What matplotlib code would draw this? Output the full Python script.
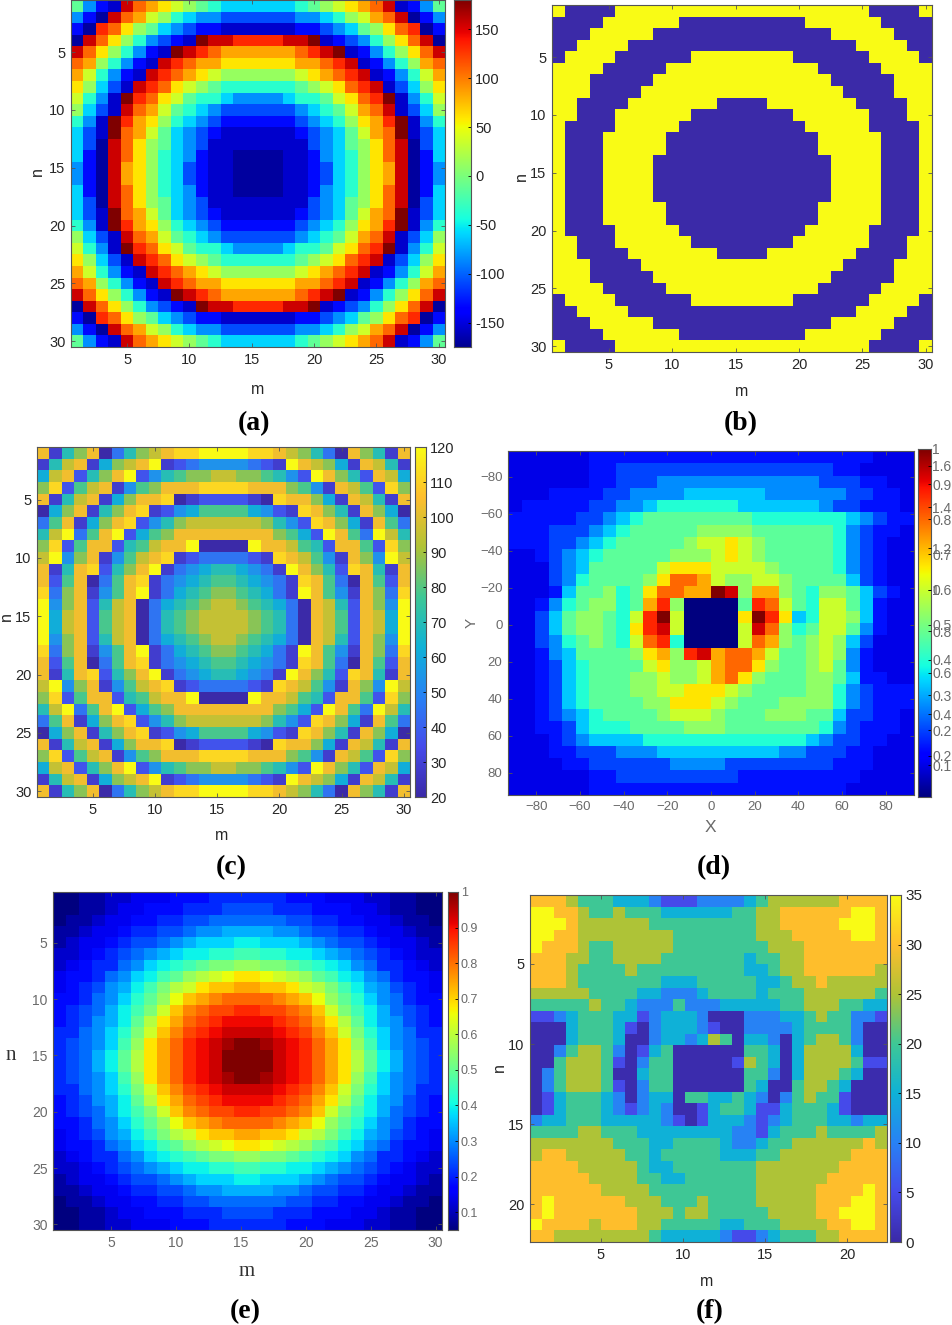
import numpy as np
import matplotlib
matplotlib.use("Agg")
import matplotlib.pyplot as plt
from matplotlib.colors import LinearSegmentedColormap

W, H = 952, 1325

# Cell readings, one string per row; each character is a colour step
A_ROWS = """
7421ecba9876555 5556789abce1247
420ecb986544333 333445689bce024
20dca8754322111 1112234578acd02
0eca86432 1feedd ddeef123468ace0
eca86421fedcbbb bbbcdef12468ace
cb86421edcbbaaa aaabbcde12468bc
b96421edcba9888 8889abcde12469b
a8531edca987666 666789acde1358a
9641fdca9766544 4456679acdf1469
8531ecb97654333 33345679bce1358
641fdba86543222 22234568abdf146
531fcb975432111 111234579bcf135
530eca875431111 111134578ace035
520eca865421100 001124568ace025
420eba865321100 001123568abe024
420eba865321100 001123568abe024
520eca865421100 001124568ace025
530eca875431111 111134578ace035
531fcb975432111 111234579bcf135
641fdba86543222 22234568abdf146
8531ecb97654333 33345679bce1358
9641fdca9766544 4456679acdf1469
a8531edca987666 666789acde1358a
b96421edcba9888 8889abcde12469b
cb86421edcbbaaa aaabbcde12468bc
eca86421fedcbbb bbbcdef12468ace
0eca86432 1feedd ddeef123468ace0
20dca8754322111 1112234578acd02
420ecb986544333 333445689bce024
7421ecba9876555 5556789abce1247
"""
B_ROWS = """
100001111111111111111111100001
000011111100000000001111110000
000111110000000000000011111000
001111000000000000000000111100
011110000001111111100000011110
111100000111111111111000001111
111000001111111111111100000111
111000011111111111111110000111
110000111111100001111111000011
110001111110000000011111100011
100001111100000000001111100001
100011111000000000000111110001
100011111000000000000111110001
100011110000000000000011110001
100011110000000000000011110001
100011110000000000000011110001
100011110000000000000011110001
100011111000000000000111110001
100011111000000000000111110001
100001111100000000001111100001
110001111110000000011111100011
110000111111100001111111000011
111000011111111111111110000111
111000001111111111111100000111
111100000111111111111000001111
011110000001111111100000011110
001111000000000000000000111100
000111110000000000000011111000
000011111100000000001111110000
100001111111111111111111100001
"""
C_ROWS = """
a168a03689abbcc ccbba98630a861a
169a1589ac12344 44321ca9851a961
59a268ac2467889 9887642ca862a95
8b279a1478aaabb bbaaa8741a972b8
a169a158aab0122 2210baa851a961a
058a168ab124577 775421ba861a850
37a158ab2468999 9998642ba851a73
69c37ac2578aaaa aaaa8752ca73c96
8b27aa2679aac00 00caa9762aa72b8
9c48a1479ab1233 3321ba9741a84c9
a16ab268ac13456 65431ca862ba61a
a27a037ab134567 765431ba730a72a
b38a147ac135678 876531ca741a83b
c48a269a0356789 9876530a962a84c
c59a279a0367899 9987630a972a95c
c59a279a0367899 9987630a972a95c
c48a269a0356789 9876530a962a84c
b38a147ac135678 876531ca741a83b
a27a037ab134567 765431ba730a72a
a16ab268ac13456 65431ca862ba61a
9c48a1479ab1233 3321ba9741a84c9
8b27aa2679aac00 00caa9762aa72b8
69c37ac2578aaaa aaaa8752ca73c96
37a158ab2468999 9998642ba851a73
058a168ab124577 775421ba861a850
a169a158aab0122 2210baa851a961a
8b279a1478aaabb bbaaa8741a972b8
59a268ac2467889 9887642ca862a95
169a1589ac12344 44321ca9851a961
a168a03689abbcc ccbba98630a861a
"""
D_ROWS = """
1111112222 2222222222 2222222111
1111112233 3333333333 3333221111
1111112233 3444444444 4443332211
1112222334 4445555554 4444433221
1222223344 5666666555 5554332221
2222233456 7777777766 6666654322
2223334567 7777888877 7777643221
2223345677 777899a987 7777643211
1123456777 778889a987 7777643211
1113457777 79aaa99998 7777643211
1113467777 8accb98899 8777753211
1112577867 accbbfe8bb 8768875321
1124678867 bd800007dc 9769975211
1135788769 df90000afd a569985211
1135788 76a de90000 9ec 8679974211
1134678769 cd600009cb 8789853111
1124577778 ab8debccb9 7789842111
1123567777 9a889bcca8 7789742111
1123567778 89889bca87 7788752211
1123567778 899aaa9877 7788643222
1123567777 88aaa98777 8888643222
1123456777 7899987778 8877533221
1122356667 7778887777 7776432221
1112345555 6666666666 6654332211
1112233344 4555555555 4433322111
1111223333 3344443333 3333222111
1111112233 3333333222 2222221111
1111112222 2222222222 2222211111
"""
E_ROWS = """
001122333444555 555444333221100
001123344455566 665554443321100
011233445566777 777665544332110
112334556678899 998876655433211
12334566789aaab baaa98766543321
223456789abbccd dccbba987654322
2345578abcdeffg gffedcba8755432
344578abdeghijk kjihgedba875443
345689bdfhikllm mllkihfdb986543
44578acegjlmnoo oonmljgeca87544
45679bdfilnoppq qpponlifdb97654
45689behkmopqrr rrqpomkheb98654
5578acfilnpqrss ssrqpnlifca8755
5678adgkmoqrstu utsrqomkgda8765
5679behkmoqrsuu uusrqomkheb9765
5679behkmoqrsuu uusrqomkheb9765
5678adgkmoqrstu utsrqomkgda8765
5578acfilnpqrss ssrqpnlifca8755
45689behkmopqrr rrqpomkheb98654
45679bdfilnoppq qpponlifdb97654
44578acegjlmnoo oonmljgeca87544
345689bdfhikllm mllkihfdb986543
344578abdeghijk kjihgedba875443
2345578abcdeffg gffedcba8755432
223456789abbccd dccbba987654322
12334566789aaab baaa98766543321
112334556678899 998876655433211
011233445566777 777665544332110
001123344455566 665554443321100
001122333444555 555444333221100
"""
F_ROWS = """
666 5 444 333 2 111 2222 3 4 555555 6666
77 66 5 44 5 444 333333 44 55 666666 77 6
777 6 555555 444444444 55 66666 777 6
77 66 55555555 4444444 555 66666 77 6
7 666 5 44 55555 44444444 555 6666666
666 55 44 5555 4444444 3 44 55 6666666
666 5 4444 5 444444444 33 4 55 666666 5
666 5 4444444 333 44444 33 4 55 6 55555
55555 4444 33 222 3 4444 3 444 555555 4
44444 5 44 3 222 4 222 33333 44 555 44 33
11 2 3 444 33 1 2 333 2 000 222 33 4 5 44 22 1
000 3 444 3 1 0 2 333 2 1 00 2222 3 4444 2 00
000 3 444 3 00 2 33 2 3 5 4 0 33 2 0 3 4 55 4 2 00
00 2 4 55 4 2 0 1 3 4 000000 44 3 0 3 5555 3 00
00 4 555 4 1 0 2 44 00000 1 5 4 3 0 3 5555 4 11
0 2 4 555 4 00 3 44 000000 44 2 0 3 555 4 3 00
0 2 4 555 4 1 0 2 44 000000 4 3 00 4 55 4 3 000
0 1 3 444 3 2 0 2 33 0 44 33 4 3 2 0 2 4 5 44 1 000
0 1 3 444 3 2 1 2 3 2 00 1 3 44 3 11 3 444 3 1 000
2 33 444 33333 2 1 0 1 333 2 1 2 3 444 33 2 33
4444 55 444 33333333 22 1 3 444 5 4444 5
5555555 444 33 4444 3 22 3 44 555555 6 5
5 66 55555 44 3 44444 333 44 555555 666
6666 55555 4 33 4444444 5555555 6666
66666 5555 44 33 444444 555555 66666
666666 5555 444444444 55555 6666 7 6
6 7 666666 555 444 5 4444 55555 666 77 6
6 7 6666666 555 4 55 44444 5555 66 777 6
7 6666 5 666 55 44444 33 444 5555 66 77 6
66 55555555 4 33333 2 11 2 3 444 55 6666
"""
# Value of each colour step, per panel
A_STEPS = [-169, -156, -132, -108, -84, -60, -36, -12, 12, 36, 60, 84, 108, 132, 156, 180]
D_STEPS = [0.01, 0.10, 0.15, 0.20, 0.27, 0.33, 0.40, 0.47, 0.53, 0.60, 0.67, 0.73, 0.80, 0.87, 0.93, 1.0]
F_LEVELS = [0.5, 5, 10, 15, 20, 25, 30, 35]

A_TICKS = [5, 10, 15, 20, 25, 30]
F_TICKS = [5, 10, 15, 20]
D_TICKS = [-80, -60, -40, -20, 0, 20, 40, 60, 80]
CB_A = [-150, -100, -50, 0, 50, 100, 150]
CB_C = [20, 30, 40, 50, 60, 70, 80, 90, 100, 110, 120]
CB_D1 = [0.1, 0.2, 0.3, 0.4, 0.5, 0.6, 0.7, 0.8, 0.9, 1]
CB_D2 = [0.2, 0.4, 0.6, 0.8, 1, 1.2, 1.4, 1.6]
CB_E = [0.1, 0.2, 0.3, 0.4, 0.5, 0.6, 0.7, 0.8, 0.9, 1]
CB_F = [0, 5, 10, 15, 20, 25, 30, 35]


def decode(text, ncols):
    rows = []
    for line in text.strip().splitlines():
        cells = [int(ch, 36) for ch in line.replace(" ", "")]
        assert len(cells) == ncols, (line, len(cells))
        rows.append(cells)
    return np.array(rows, dtype=int)


a_vals = np.array(A_STEPS, dtype=float)[decode(A_ROWS, 30)]
b_vals = decode(B_ROWS, 30).astype(float)
c_vals = 20 + 100 * decode(C_ROWS, 30) / 12
d_vals = np.array(D_STEPS)[decode(D_ROWS, 30)]
e_vals = 0.05 + 0.95 * decode(E_ROWS, 30) / 30
f_vals = np.array(F_LEVELS, dtype=float)[decode(F_ROWS, 30)]

parula = LinearSegmentedColormap.from_list("parula_like", [
    (59/255, 42/255, 168/255), (70/255, 75/255, 235/255), (40/255, 130/255, 245/255),
    (15/255, 178/255, 215/255), (62/255, 200/255, 150/255), (175/255, 195/255, 55/255),
    (255/255, 190/255, 45/255), (249/255, 251/255, 21/255)])

plt.rcParams["font.family"] = ["Liberation Sans", "DejaVu Sans"]
fig = plt.figure(figsize=(W / 100, H / 100), dpi=100)


def box(x0, y0, x1, y1):
    return [x0 / W, 1 - y1 / H, (x1 - x0) / W, (y1 - y0) / H]


def panel(vals, cmap, vmin, vmax, rect, xlim, ylim, xt, yt, color="#262626", size=10.5, edge="#555555"):
    ax = fig.add_axes(box(*rect))
    ax.imshow(vals, cmap=cmap, vmin=vmin, vmax=vmax, aspect="auto", interpolation="nearest",
              extent=[xlim[0], xlim[1], ylim[1], ylim[0]])
    ax.set_xlim(*xlim)
    ax.set_ylim(ylim[1], ylim[0])
    ax.set_xticks(xt)
    ax.set_yticks(yt)
    ax.tick_params(direction="in", length=3, width=0.6, color=edge, labelsize=size,
                   labelcolor=color, pad=4, top=True, right=True)
    for s in ax.spines.values():
        s.set_color(edge)
        s.set_linewidth(0.8)
    return ax


def cbar(cmap, vmin, vmax, rect, ticks, color="#262626", size=10.5, pad=3, shown=None):
    cax = fig.add_axes(box(*rect))
    grad = np.linspace(vmax, vmin, 256)[:, None]
    cax.imshow(grad, cmap=cmap, vmin=vmin, vmax=vmax, aspect="auto",
               extent=[0, 1, vmin, vmax], origin="upper")
    if shown:
        cax.set_ylim(*shown)
    cax.set_xticks([])
    cax.yaxis.tick_right()
    cax.set_yticks(ticks)
    cax.set_yticklabels([f"{t:g}" for t in ticks])
    cax.tick_params(direction="in", length=2, width=0.6, labelsize=size, labelcolor=color, pad=pad)
    for s in cax.spines.values():
        s.set_color("#555555")
        s.set_linewidth(0.8)
    return cax


def txt(x, y, s, **kw):
    kw.setdefault("ha", "center")
    kw.setdefault("va", "center")
    fig.text(x / W, 1 - y / H, s, **kw)


L = (0.5, 30.5)
# (a)
panel(a_vals, "jet", -180, 180, (71, 0, 445, 347), L, L, A_TICKS, A_TICKS)
cbar("jet", -180, 180, (454, 0, 471, 347), CB_A, shown=(-174.5, 179.6))
txt(258, 389, "m", fontsize=11.5, color="#262626")
txt(37, 172, "n", fontsize=11.5, rotation=90, color="#262626")
# (b)
panel(b_vals, parula, 0, 1, (552, 5, 932, 352), L, L, A_TICKS, A_TICKS)
txt(742, 391, "m", fontsize=11.5, color="#262626")
txt(521, 177, "n", fontsize=11.5, rotation=90, color="#262626")
# (c)
panel(c_vals, parula, 20, 120, (37, 447, 410, 797), L, L, A_TICKS, A_TICKS)
cbar(parula, 20, 120, (415, 447, 426, 797), CB_C, size=10.5)
txt(222, 836, "m", fontsize=11.5, color="#262626")
txt(6, 617, "n", fontsize=11.5, rotation=90, color="#262626")
# (d)
grey = "#6a6a6a"
panel(d_vals, "jet", 0.01, 1, (508, 451, 914, 795), (-93, 93), (-94, 92), D_TICKS, D_TICKS,
      color=grey, size=9.5)
cd = cbar("jet", 0.01, 1, (918, 449, 931, 797), CB_D1, color=grey, size=10, pad=1)
tw = cd.twinx()
cd.yaxis.tick_right()
tw.set_ylim(0, 1.68)
tw.set_yticks(CB_D2)
tw.set_yticklabels([f"{t:g}" for t in CB_D2])
tw.tick_params(direction="in", length=2, width=0.6, labelsize=10, labelcolor=grey, pad=1)
for s in tw.spines.values():
    s.set_visible(False)
txt(710, 828, "X", fontsize=12.5, color=grey)
txt(472, 623, "Y", fontsize=11, rotation=90, color=grey)
# (e)
panel(e_vals, "jet", 0.05, 1, (53, 892, 442, 1230), L, L, A_TICKS, A_TICKS, color=grey, size=10)
cbar("jet", 0.05, 1, (448, 892, 458, 1230), CB_E, color=grey, size=9, pad=2)
txt(247, 1271, "m", fontsize=15, family="Liberation Serif", color="#333333")
txt(11, 1056, "n", fontsize=15, family="Liberation Serif", color="#333333")
# (f)
panel(f_vals, parula, 0, 35, (530, 895, 887, 1242), (0.67, 22.44), (0.69, 22.37), F_TICKS, F_TICKS)
cbar(parula, 0, 35, (890, 895, 901, 1242), CB_F, size=11)
txt(707, 1281, "m", fontsize=11.5, color="#262626")
txt(499, 1068, "n", fontsize=11.5, rotation=90, color="#262626")

for x, y, s in [(254, 424, "(a)"), (741, 424, "(b)"), (231, 868, "(c)"),
                (714, 868, "(d)"), (245, 1312, "(e)"), (710, 1312, "(f)")]:
    txt(x, y, s, fontsize=20, fontweight="bold", family="Liberation Serif", color="black")

fig.savefig("out.png", dpi=100)
